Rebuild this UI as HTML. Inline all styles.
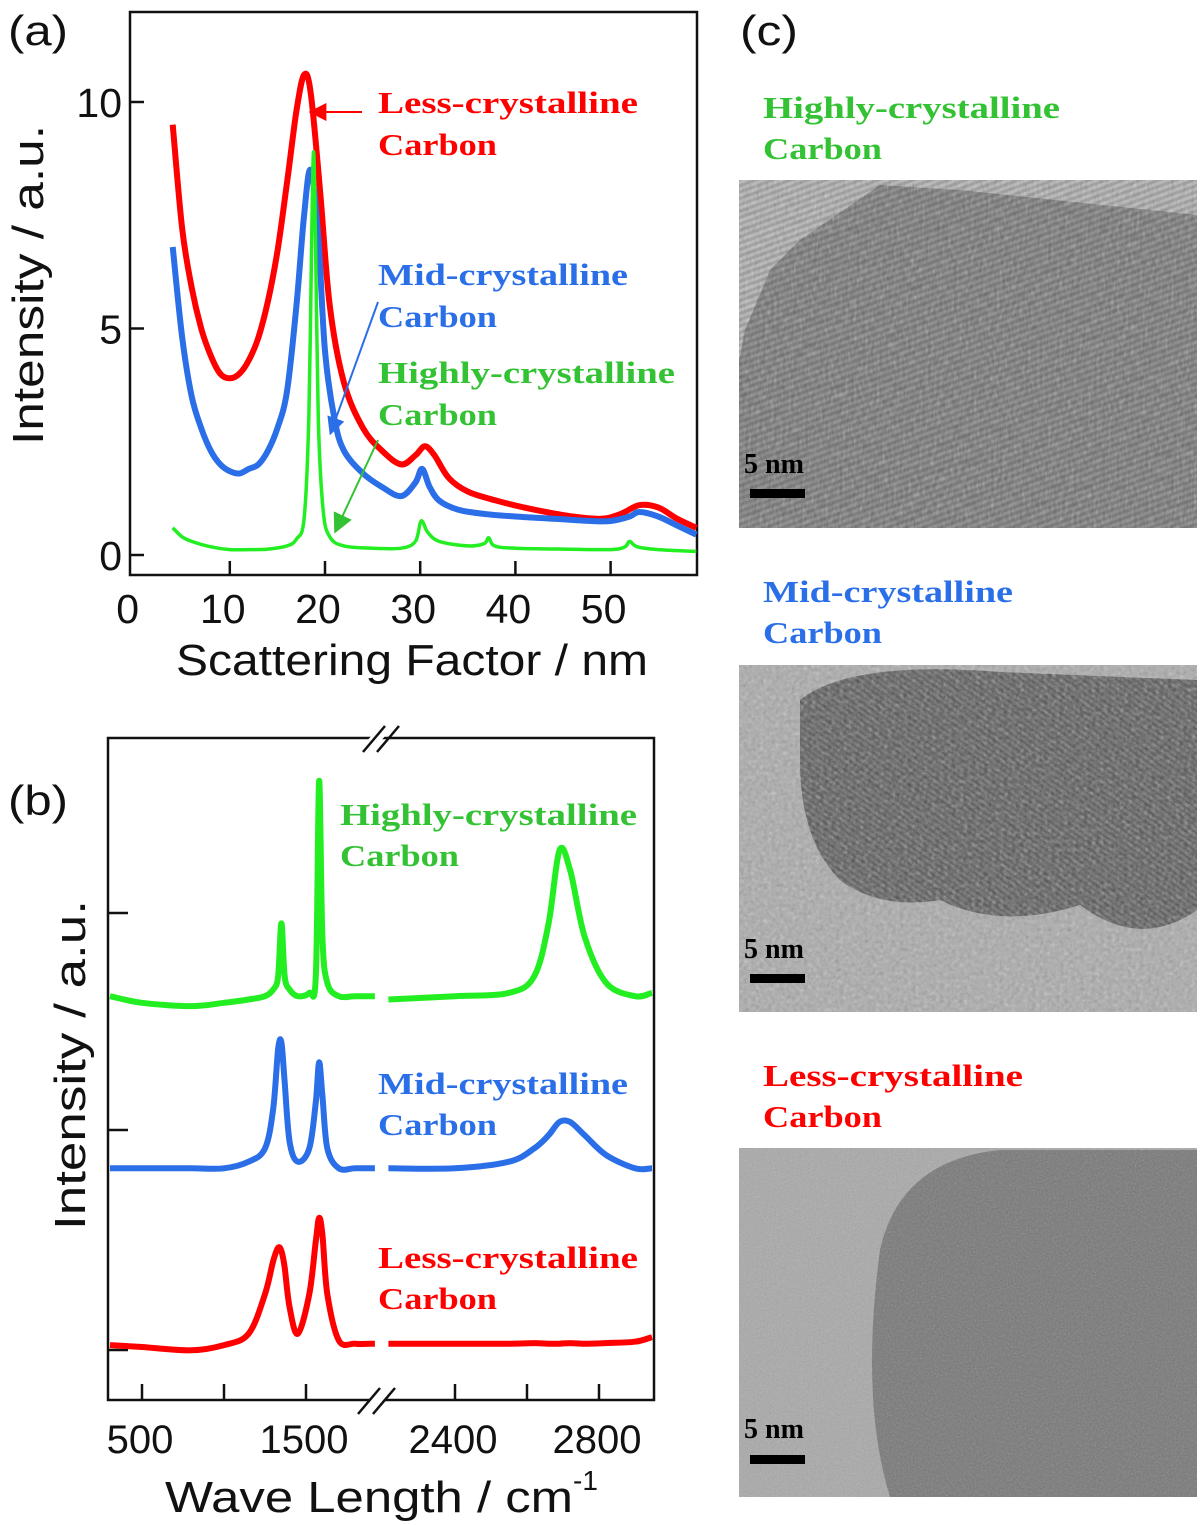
<!DOCTYPE html>
<html><head><meta charset="utf-8"><style>
html,body{margin:0;padding:0;background:#fff}
svg{display:block}
.ax{font-family:"Liberation Sans",sans-serif;fill:#111}
.lb{font-family:"Liberation Serif",serif;font-weight:bold}
</style></head><body>
<svg id="fig" width="1200" height="1525" viewBox="0 0 1200 1525" xmlns="http://www.w3.org/2000/svg">
<defs>
<filter id="tex" x="0" y="0" width="100%" height="100%">
<feTurbulence type="fractalNoise" baseFrequency="0.35 0.12" numOctaves="2" seed="3"/>
<feColorMatrix type="saturate" values="0"/>
<feComponentTransfer><feFuncA type="linear" slope="0.55"/></feComponentTransfer>
</filter>
<filter id="tex2" x="0" y="0" width="100%" height="100%">
<feTurbulence type="fractalNoise" baseFrequency="0.25" numOctaves="2" seed="7"/>
<feColorMatrix type="saturate" values="0"/>
<feComponentTransfer><feFuncA type="linear" slope="0.6"/></feComponentTransfer>
</filter>
<filter id="tex3" x="0" y="0" width="100%" height="100%">
<feTurbulence type="fractalNoise" baseFrequency="0.6" numOctaves="1" seed="11"/>
<feColorMatrix type="saturate" values="0"/>
<feComponentTransfer><feFuncA type="linear" slope="0.35"/></feComponentTransfer>
</filter>
<pattern id="stripes" width="6" height="6" patternUnits="userSpaceOnUse" patternTransform="rotate(-20)">
<rect width="6" height="3" fill="#000" fill-opacity="0.12"/>
</pattern>
<pattern id="stripes2" width="5" height="5" patternUnits="userSpaceOnUse" patternTransform="rotate(35)">
<rect width="5" height="2" fill="#000" fill-opacity="0.12"/>
</pattern>
<marker id="ahB" viewBox="0 0 10 10" markerWidth="18" markerHeight="18" refX="8" refY="5" orient="auto" markerUnits="userSpaceOnUse"><path d="M0,0 L10,5 L0,10z" fill="#2a6ee8"/></marker>
<marker id="ahG" viewBox="0 0 10 10" markerWidth="20" markerHeight="20" refX="8" refY="5" orient="auto" markerUnits="userSpaceOnUse"><path d="M0,0 L10,5 L0,10z" fill="#33c233"/></marker>
<marker id="ahR2" viewBox="0 0 10 10" markerWidth="18" markerHeight="18" refX="8" refY="5" orient="auto" markerUnits="userSpaceOnUse"><path d="M0,0 L10,5 L0,10z" fill="#f00"/></marker>
</defs>

<!-- Panel a -->
<g>
<text class="ax" x="8" y="45" font-size="42" textLength="60" lengthAdjust="spacingAndGlyphs">(a)</text>
<rect x="130" y="12" width="567" height="563" fill="none" stroke="#111" stroke-width="2.5"/>
<g id="aTicks"></g>
<g id="aSeries"></g>
<text class="ax" transform="translate(43,285) rotate(-90)" text-anchor="middle" font-size="44" textLength="320" lengthAdjust="spacingAndGlyphs">Intensity / a.u.</text>
<text class="ax" x="412" y="675" text-anchor="middle" font-size="44" textLength="472" lengthAdjust="spacingAndGlyphs">Scattering Factor / nm</text>
<g class="lb" font-size="31">
<text x="378" y="113" fill="#f00" textLength="260" lengthAdjust="spacingAndGlyphs">Less-crystalline</text>
<text x="378" y="155" fill="#f00" textLength="119" lengthAdjust="spacingAndGlyphs">Carbon</text>
<text x="378" y="285" fill="#2a6ee8" textLength="250" lengthAdjust="spacingAndGlyphs">Mid-crystalline</text>
<text x="378" y="327" fill="#2a6ee8" textLength="119" lengthAdjust="spacingAndGlyphs">Carbon</text>
<text x="378" y="383" fill="#33c233" textLength="297" lengthAdjust="spacingAndGlyphs">Highly-crystalline</text>
<text x="378" y="425" fill="#33c233" textLength="119" lengthAdjust="spacingAndGlyphs">Carbon</text>
</g>
<line x1="362" y1="112" x2="312" y2="112" stroke="#f00" stroke-width="2" marker-end="url(#ahR2)"/>
<line x1="378" y1="302" x2="331" y2="432" stroke="#2a6ee8" stroke-width="2" marker-end="url(#ahB)"/>
<line x1="378" y1="440" x2="336" y2="530" stroke="#33c233" stroke-width="2" marker-end="url(#ahG)"/>
</g>

<!-- Panel b -->
<g>
<text class="ax" x="8" y="815" font-size="42" textLength="60" lengthAdjust="spacingAndGlyphs">(b)</text>
<rect x="108" y="738" width="546" height="662" fill="none" stroke="#111" stroke-width="2.5"/>
<g id="bTicks"></g>
<g id="bSeries"></g>
<g>
<line x1="365" y1="750" x2="387" y2="727" stroke="#fff" stroke-width="10"/>
<line x1="363" y1="752" x2="385" y2="726" stroke="#111" stroke-width="2.5"/>
<line x1="377" y1="752" x2="399" y2="726" stroke="#111" stroke-width="2.5"/>
</g>
<g>
<line x1="365" y1="1412" x2="387" y2="1389" stroke="#fff" stroke-width="10"/>
<line x1="358" y1="1414" x2="380" y2="1388" stroke="#111" stroke-width="2.5"/>
<line x1="373" y1="1414" x2="395" y2="1388" stroke="#111" stroke-width="2.5"/>
</g>
<text class="ax" transform="translate(85,1065) rotate(-90)" text-anchor="middle" font-size="44" textLength="330" lengthAdjust="spacingAndGlyphs">Intensity / a.u.</text>
<text class="ax" x="165" y="1512" font-size="44"><tspan textLength="408" lengthAdjust="spacingAndGlyphs">Wave Length / cm</tspan><tspan dy="-22" font-size="28">-1</tspan></text>
<g class="lb" font-size="31">
<text x="340" y="825" fill="#33c233" textLength="297" lengthAdjust="spacingAndGlyphs">Highly-crystalline</text>
<text x="340" y="866" fill="#33c233" textLength="119" lengthAdjust="spacingAndGlyphs">Carbon</text>
<text x="378" y="1094" fill="#2a6ee8" textLength="250" lengthAdjust="spacingAndGlyphs">Mid-crystalline</text>
<text x="378" y="1135" fill="#2a6ee8" textLength="119" lengthAdjust="spacingAndGlyphs">Carbon</text>
<text x="378" y="1268" fill="#f00" textLength="260" lengthAdjust="spacingAndGlyphs">Less-crystalline</text>
<text x="378" y="1309" fill="#f00" textLength="119" lengthAdjust="spacingAndGlyphs">Carbon</text>
</g>
</g>

<!-- Panel c -->
<g>
<text class="ax" x="740" y="45" font-size="42" textLength="58" lengthAdjust="spacingAndGlyphs">(c)</text>
<g class="lb" font-size="31">
<text x="763" y="118" fill="#33c233" textLength="297" lengthAdjust="spacingAndGlyphs">Highly-crystalline</text>
<text x="763" y="159" fill="#33c233" textLength="119" lengthAdjust="spacingAndGlyphs">Carbon</text>
<text x="763" y="602" fill="#2a6ee8" textLength="250" lengthAdjust="spacingAndGlyphs">Mid-crystalline</text>
<text x="763" y="643" fill="#2a6ee8" textLength="119" lengthAdjust="spacingAndGlyphs">Carbon</text>
<text x="763" y="1086" fill="#f00" textLength="260" lengthAdjust="spacingAndGlyphs">Less-crystalline</text>
<text x="763" y="1127" fill="#f00" textLength="119" lengthAdjust="spacingAndGlyphs">Carbon</text>
</g>
<g>
<rect x="739" y="180" width="458" height="348" fill="#7d7d7d"/>
<polygon points="739,180 1197,180 1197,215 960,190 880,185 800,240 770,270 745,330 739,360" fill="#b5b5b5"/>
<rect x="739" y="180" width="458" height="348" filter="url(#tex)" fill="#000"/>
<rect x="739" y="180" width="458" height="348" fill="url(#stripes)"/>
<text class="lb" x="744" y="473" font-size="28" fill="#000">5 nm</text>
<rect x="750" y="489" width="55" height="9" fill="#000"/>
</g>
<g>
<rect x="739" y="665" width="458" height="347" fill="#a9a9a9"/>
<path d="M800,700 Q850,660 1000,672 L1197,680 L1197,910 Q1140,950 1080,905 Q1000,930 940,900 Q880,910 840,880 Q800,840 800,760z" fill="#5e5e5e"/>
<rect x="739" y="665" width="458" height="347" filter="url(#tex2)" fill="#000"/>
<path d="M800,700 Q850,660 1000,672 L1197,680 L1197,910 Q1140,950 1080,905 Q1000,930 940,900 Q880,910 840,880 Q800,840 800,760z" fill="url(#stripes2)"/>
<text class="lb" x="744" y="958" font-size="28" fill="#000">5 nm</text>
<rect x="750" y="974" width="55" height="9" fill="#000"/>
</g>
<g>
<rect x="739" y="1148" width="458" height="349" fill="#a8a8a8"/>
<path d="M880,1250 Q900,1160 1000,1150 L1197,1150 L1197,1497 L890,1497 Q860,1400 880,1250z" fill="#767676"/>
<rect x="739" y="1148" width="458" height="349" filter="url(#tex3)" fill="#000"/>
<text class="lb" x="744" y="1438" font-size="28" fill="#000">5 nm</text>
<rect x="750" y="1455" width="55" height="9" fill="#000"/>
</g>
</g>
</svg>
<script>
// ---- Panel (a) data ----
const aXTicks = [0,10,20,30,40,50];
const aYTicks = [0,5,10];
const aRedX = [4,5,6,7,8,9,10,11,12,13,14,15,16,17,17.8,18.5,19.5,20.5,22,24,26,28,29.5,30.5,31.5,33,35,38,42,46,49,51,53,55,57,59];
const aRedY = [9.5,7.2,5.9,5.0,4.4,4.0,3.9,4.0,4.3,4.8,5.6,6.7,8.2,9.8,10.6,10.2,8.0,5.5,3.8,2.8,2.3,2.0,2.2,2.4,2.2,1.7,1.4,1.2,1.0,0.85,0.8,0.9,1.1,1.05,0.8,0.6];
const aBlueX = [4,5,6,7,8,9,10,11,12,13,14,15,16,17,17.8,18.5,19.3,20,21,22,24,26,28,29.5,30.2,31,32,34,37,40,44,48,50,52,53,55,57,59];
const aBlueY = [6.8,4.8,3.5,2.8,2.3,2.0,1.85,1.8,1.9,2.0,2.3,2.8,3.6,5.5,7.5,8.5,7.0,4.5,3.0,2.3,1.8,1.5,1.3,1.6,1.9,1.5,1.2,1.0,0.9,0.85,0.8,0.75,0.75,0.85,0.95,0.85,0.65,0.45];
const aGreenX = [4,5,6,8,10,12,14,16,17,17.8,18.3,18.6,18.8,19.0,19.3,19.8,20.5,22,25,28,29.5,30.1,30.8,32,35,36.7,37.2,37.8,40,45,50,51.5,52,52.8,55,59];
const aGreenY = [0.6,0.4,0.3,0.18,0.12,0.12,0.13,0.2,0.35,0.8,3.0,7.0,8.9,7.0,3.0,1.0,0.4,0.2,0.15,0.15,0.3,0.75,0.5,0.3,0.2,0.25,0.38,0.2,0.15,0.13,0.12,0.18,0.3,0.18,0.12,0.08];

// ---- Panel (b) data ----
const bTicksLeft = [500,1000,1500];
const bTicksRight = [2400,2600,2800];
const bTickLabels = ["500","1500","2400","2800"];
const bTickLabelVals = [500,1500,2400,2800];
const bLeftX = [300,500,800,1000,1150,1250,1300,1330,1350,1370,1400,1450,1520,1560,1580,1600,1630,1700,1800,1920];
const bRightX = [2215,2400,2550,2620,2660,2690,2720,2760,2820,2900,2950];
const bGreenL = [61,60,59.5,60,60.5,61,62,64,72,64,62,61,61.5,64,93.5,70,63,61,61,61];
const bGreenR = [60.5,61,61.5,64,72,83,80,70,63,61,61.5];
const bBlueL = [35,35,35,35,36,38,44,53,54,48,39,36,38,45,51,46,38,35,35,35];
const bBlueR = [35,35,36,38,40,42,42,40,37,35,35];
const bRedL = [8.3,8,7.5,8.3,10,16,21,23,22.5,20,14,10,16,24,27.5,25,16,9,8.5,8.5];
const bRedR = [8.5,8.5,8.5,8.6,8.5,8.5,8.6,8.5,8.6,8.8,9.5];

const NS = "http://www.w3.org/2000/svg";
function mk(tag, attrs, parent){const e=document.createElementNS(NS,tag);for(const k in attrs)e.setAttribute(k,attrs[k]);parent.appendChild(e);return e;}
function smooth(pts){
  let d="M"+pts[0][0].toFixed(1)+","+pts[0][1].toFixed(1);
  for(let i=0;i<pts.length-1;i++){
    const p0=pts[Math.max(0,i-1)],p1=pts[i],p2=pts[i+1],p3=pts[Math.min(pts.length-1,i+2)];
    const c1x=p1[0]+(p2[0]-p0[0])/6,c1y=p1[1]+(p2[1]-p0[1])/6;
    const c2x=p2[0]-(p3[0]-p1[0])/6,c2y=p2[1]-(p3[1]-p1[1])/6;
    d+=" C"+c1x.toFixed(1)+","+c1y.toFixed(1)+" "+c2x.toFixed(1)+","+c2y.toFixed(1)+" "+p2[0].toFixed(1)+","+p2[1].toFixed(1);
  }
  return d;
}
const ax = v => 134.6 + v*9.52;
const ay = v => 555 - v*45.3;
const aT = document.getElementById('aTicks');
aXTicks.forEach(v=>{
  if(v>0){const l=mk('line',{x1:ax(v),x2:ax(v),y1:575,y2:561,stroke:'#111','stroke-width':2.5},aT);
  
  }
  const t=mk('text',{x:ax(v)-7,y:623,'text-anchor':'middle','font-size':41,class:'ax'},aT);t.textContent=v;
  
  
});
aYTicks.forEach(v=>{
  const l=mk('line',{x1:130,x2:144,y1:ay(v),y2:ay(v),stroke:'#111','stroke-width':2.5},aT);
  
  
  const t=mk('text',{x:122,y:ay(v)+15,'text-anchor':'end','font-size':41,class:'ax'},aT);t.textContent=v;
  
  
});
const aS=document.getElementById('aSeries');
[[aRedX,aRedY,'#ff0000','series-a-less-crystalline'],[aBlueX,aBlueY,'#2a6ee8','series-a-mid-crystalline'],[aGreenX,aGreenY,'#22ee22','series-a-highly-crystalline']].forEach(s=>{
  const pts=s[0].map((x,i)=>[ax(x),ay(s[1][i])]);
  const p=mk('path',{d:smooth(pts),fill:'none',stroke:s[2],'stroke-width':s[2]==='#22ee22'?3.5:6,'stroke-linejoin':'round'},aS);
  
  
});
const bxL = v => 142 + (v-500)*0.164;
const bxR = v => 455 + (v-2400)*0.36;
const bx = v => v<2100 ? bxL(v) : bxR(v);
const by = v => 1400 - v*6.62;
const bT=document.getElementById('bTicks');
bTicksLeft.concat(bTicksRight).forEach(v=>{
  const l=mk('line',{x1:bx(v),x2:bx(v),y1:1400,y2:1384,stroke:'#111','stroke-width':2.5},bT);
  
  
});
bTickLabels.forEach((s,i)=>{
  const t=mk('text',{x:bx(bTickLabelVals[i])-2,y:1453,'text-anchor':'middle','font-size':40,class:'ax'},bT);t.textContent=s;
  
  
});
[913,1130,1350].forEach(y=>{
  const l=mk('line',{x1:108,x2:128,y1:y,y2:y,stroke:'#111','stroke-width':2.5},bT);
  
  
});
const bS=document.getElementById('bSeries');
[[bGreenL,bGreenR,'#22ee22','series-b-highly-crystalline'],[bBlueL,bBlueR,'#2a6ee8','series-b-mid-crystalline'],[bRedL,bRedR,'#ff0000','series-b-less-crystalline']].forEach(s=>{
  const g=mk('g',{},bS);
  
  
  const pl=bLeftX.map((x,i)=>[Math.max(110,bx(x)),by(s[0][i])]);
  const pr=bRightX.map((x,i)=>[Math.min(652,bx(x)),by(s[1][i])]);
  mk('path',{d:smooth(pl),fill:'none',stroke:s[2],'stroke-width':6,'stroke-linejoin':'round'},g);
  mk('path',{d:smooth(pr),fill:'none',stroke:s[2],'stroke-width':6,'stroke-linejoin':'round'},g);
});
</script>
</body></html>
